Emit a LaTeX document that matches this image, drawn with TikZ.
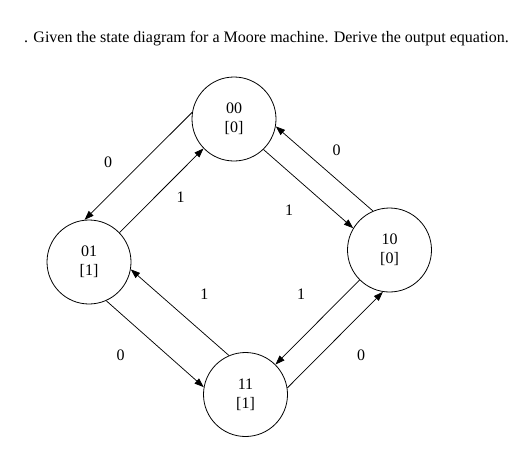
\documentclass[tikz,border=0pt]{standalone}
\usepackage{fontspec}
\setmainfont{Liberation Serif}
\usetikzlibrary{arrows.meta}
\begin{document}
\begin{tikzpicture}[x=0.75pt,y=-0.75pt,
  state/.style={draw,circle,minimum size=63pt,inner sep=0pt,align=center,line width=0.6pt,font=\fontsize{12}{14}\selectfont},
  trans/.style={draw,line width=0.55pt,-{Triangle[length=7pt,width=5pt]}},
  lbl/.style={inner sep=0pt,font=\fontsize{12}{14}\selectfont},
  title/.style={inner sep=0pt,font=\fontsize{12}{14}\selectfont}]
\useasboundingbox (0,0) rectangle (517,472);
\node[title] (t) at (266.5,39) {. Given the state diagram for a Moore machine. Derive the output equation.};
\node[state] (s00) at (234,119) {00\\{[0]}};
\node[state] (s01) at (89,262) {01\\{[1]}};
\node[state] (s10) at (389.5,250) {10\\{[0]}};
\node[state] (s11) at (245.5,394.5) {11\\{[1]}};
% transitions
\draw[trans] (s00.171.7) -- (s01.96.3);
\draw[trans] (s01.44.3) -- (s00.224.3);
\draw[trans] (s00.314.3) -- (s10.149.6);
\draw[trans] (s10.113.6) -- (s00.350.5);
\draw[trans] (s10.225.5) -- (s11.45);
\draw[trans] (s11.9) -- (s10.261.7);
\draw[trans] (s11.113) -- (s01.350.3);
\draw[trans] (s01.294.5) -- (s11.170.8);
% labels
\node[lbl] (l1) at (108,162) {0};
\node[lbl] (l2) at (180.7,197.7) {1};
\node[lbl] (l3) at (336.7,150.7) {0};
\node[lbl] (l4) at (289,210) {1};
\node[lbl] (l5) at (301,294.3) {1};
\node[lbl] (l6) at (361,355) {0};
\node[lbl] (l7) at (204.3,294.3) {1};
\node[lbl] (l8) at (120.7,355) {0};
\end{tikzpicture}
\end{document}
